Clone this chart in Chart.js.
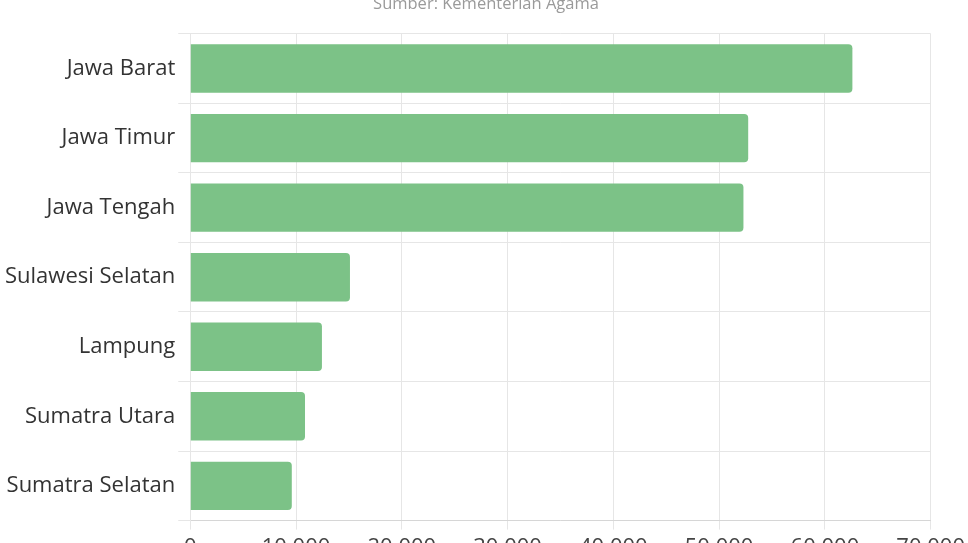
<!DOCTYPE html>
<html>
<head>
<meta charset="utf-8">
<script src="https://cdn.jsdelivr.net/npm/chart.js@4"></script>
<style>
  html, body { margin: 0; padding: 0; background: #fff; }
  #wrap { position: relative; width: 968px; height: 543px; overflow: hidden; }
  #box { position: absolute; left: 0; top: -20px; width: 970px; height: 586px; }
</style>
</head>
<body>
<div id="wrap">
  <div id="box"><canvas id="provChart"></canvas></div>
</div>
<script>
const provinces = ['Jawa Barat', 'Jawa Timur', 'Jawa Tengah', 'Sulawesi Selatan', 'Lampung', 'Sumatra Utara', 'Sumatra Selatan'];
const counts = [62600, 52750, 52300, 15100, 12450, 10850, 9600];
const xTicks = [0, 10000, 20000, 30000, 40000, 50000, 60000, 70000];

const fmt = (v) => v.toLocaleString('de-DE');

document.addEventListener('DOMContentLoaded', function() {
  const ctx = document.getElementById('provChart').getContext('2d');
  new Chart(ctx, {
    type: 'bar',
    data: {
      labels: provinces,
      datasets: [{
        label: 'Jumlah',
        data: counts,
        backgroundColor: 'rgb(124, 194, 135)',
        borderWidth: 0,
        borderRadius: 4,
        barPercentage: 0.87,
        categoryPercentage: 0.8
      }]
    },
    options: {
      indexAxis: 'y',
      responsive: true,
      maintainAspectRatio: false,
      animation: false,
      layout: { padding: { left: 2, right: 0, top: 0, bottom: 0 } },
      plugins: {
        legend: { display: false },
        tooltip: { enabled: false },
        subtitle: {
          display: true,
          text: 'Sumber: Kementerian Agama',
          color: '#9a9a9a',
          font: { family: 'Open Sans', size: 16.5 },
          padding: { top: 14, bottom: 20 }
        }
      },
      scales: {
        x: {
          min: 0,
          max: 70000,
          afterBuildTicks: (axis) => { axis.ticks = xTicks.map(v => ({ value: v })); },
          ticks: {
            color: '#444',
            font: { family: 'Open Sans', size: 22 },
            padding: 5,
            maxRotation: 0,
            callback: (v) => fmt(v)
          },
          grid: { color: '#e6e6e6', tickLength: 9 },
          border: { color: '#d6d6d6' }
        },
        y: {
          ticks: {
            color: '#333',
            font: { family: 'Open Sans', size: 22 },
            padding: 3
          },
          grid: { color: '#e6e6e6', tickLength: 12 },
          border: { color: '#e6e6e6' }
        }
      }
    }
  });
});
</script>
</body>
</html>
